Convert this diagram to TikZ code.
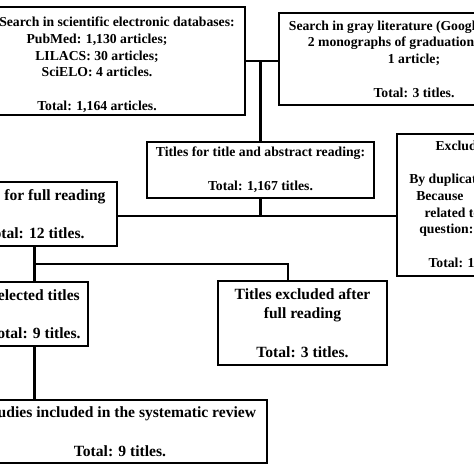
\documentclass[tikz,border=0pt]{standalone}
\usepackage{fontspec}
\setmainfont{Liberation Serif}
\begin{document}
\begin{tikzpicture}[x=1pt,y=-1pt,
    box/.style={draw,line width=2.2pt,align=center,inner sep=0pt,
        font=\fontsize{13.7}{16.8}\selectfont\bfseries},
    bigbox/.style={box,font=\fontsize{15.6}{19.3}\selectfont\bfseries},
    link/.style={line width=2.2pt}]

    \fill[white] (0,0) rectangle (474,474);
    \clip (0,0) rectangle (474,474);

    % searches
    \node[box,minimum width=296pt,minimum height=108pt] (dbs) at (97,61)
        {\rule{0pt}{17pt}\hspace*{40pt}Search in scientific electronic databases:\\
         PubMed: 1,130 articles;\\ LILACS: 30 articles;\\ SciELO: 4 articles.\\[16.8pt]
         Total: 1,164 articles.};
    \node[box,minimum width=270pt,minimum height=92pt] (gray) at (414,59)
        {Search in gray literature (Google Scholar):\\
         2 monographs of graduation\phantom{ course;}\\ 1 article;\\[16.8pt]
         Total: 3 titles.};

    % screening
    \node[box,minimum width=227pt,minimum height=56pt] (titles) at (260.5,170)
        {Titles for title and abstract reading:\\[16.8pt] Total: 1,167 titles.};
    \node[box,minimum width=168pt,minimum height=142pt] (excl) at (481,205)
        {Excluded\phantom{ titles:}\\[16.6pt]
         By duplication:\phantom{ 35 titles;}\\ Because\phantom{ they were not}\\
         related to\phantom{ the study}\\ question:\phantom{ 1,120 titles.}\\[16.6pt]
         Total: 1,155 titles.};
    \node[bigbox,minimum width=165pt,minimum height=64pt] (full) at (34.5,214)
        {Titles for full reading\\[19.3pt] Total: 12 titles.};

    % full reading
    \node[bigbox,minimum width=107pt,minimum height=64pt] (sel) at (34.5,314)
        {Selected titles\\[19.3pt] Total: 9 titles.};
    \node[bigbox,minimum width=169pt,minimum height=84pt] (fullout) at (302.5,323)
        {Titles excluded after\\ full reading\\[19.3pt] Total: 3 titles.};
    \node[bigbox,minimum width=294pt,minimum height=63pt] (incl) at (120,431.5)
        {Studies included in the systematic review\\[19.3pt] Total: 9 titles.};

    \coordinate (j1) at (260.5,216);
    \coordinate (j2) at (288,264);

    \draw[link] (dbs.east) -- (gray.west |- dbs.east);
    \draw[link] (titles.north |- dbs.east) -- (titles.north);
    \draw[link] (titles.south) -- (j1);
    \draw[link] (full.east |- j1) -- (excl.west |- j1);
    \draw[link] (full.south) -- (sel.north);
    \draw[link] (full.south |- j2) -- (j2) -- (j2 |- fullout.north);
    \draw[link] (sel.south) -- (sel.south |- incl.north);

\end{tikzpicture}
\end{document}
